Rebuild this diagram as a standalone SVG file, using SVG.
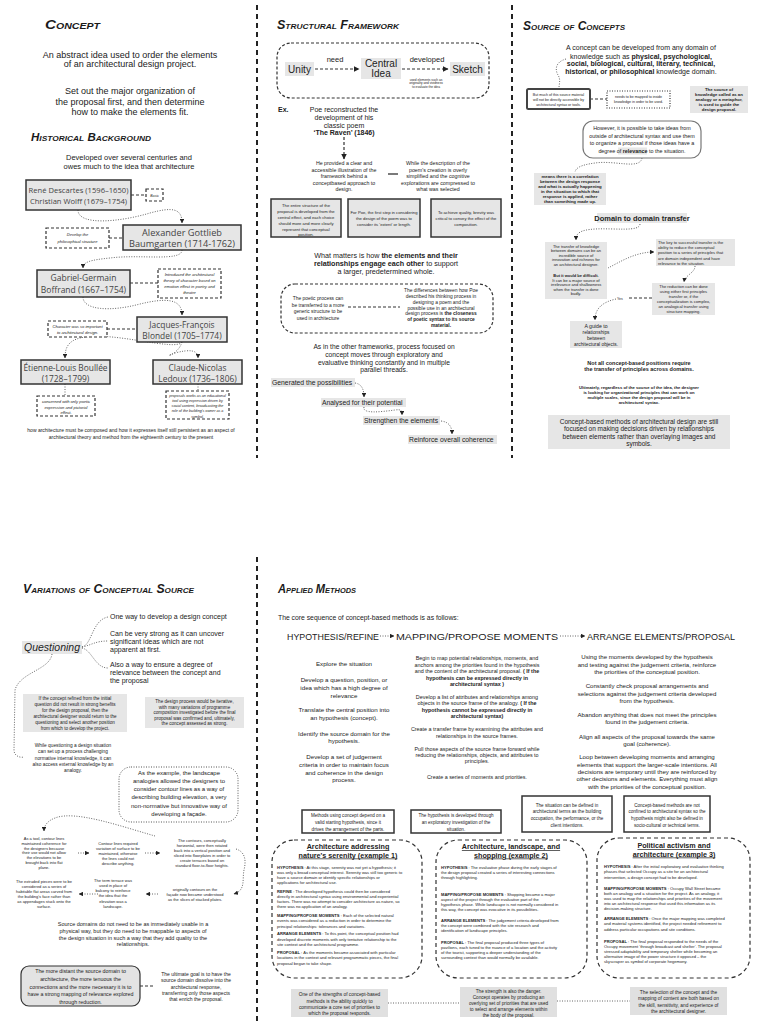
<svg xmlns="http://www.w3.org/2000/svg" width="768" height="1024" viewBox="0 0 768 1024">
<defs>
<style>
text{font-family:"Liberation Sans",Arial,sans-serif;fill:#222}
.o{font-family:"Open Sans","Noto Sans",sans-serif;fill:#444}
.m{text-anchor:middle}
.b{font-weight:bold}
.i{font-style:italic}
.ttl{font-family:"Liberation Sans",Arial,sans-serif;font-weight:bold;font-style:italic;font-variant:small-caps;fill:#1a1a1a}
.nb{fill:#e6e6e6;stroke:#333;stroke-width:1.5}
.gb{fill:#e6e6e6}
.wb{fill:#fff;stroke:#333;stroke-width:1.5}
.db{fill:#fff;stroke:#333;stroke-width:1.2;stroke-dasharray:3 2}
.dot{fill:none;stroke:#555;stroke-width:0.9;stroke-dasharray:1 1.5}
.dsh{fill:none;stroke:#333;stroke-width:1.2;stroke-dasharray:3 2}
.div{stroke:#222;stroke-width:2;stroke-dasharray:5 4}
</style>
<marker id="ah" viewBox="0 0 6 6" refX="5.5" refY="3" markerWidth="5" markerHeight="5" orient="auto"><path d="M0,0L6,3L0,6z" fill="#222"/></marker>
</defs>
<rect width="768" height="1024" fill="#fff"/>

<g id="dividers">
<line class="div" x1="257" y1="5" x2="257" y2="458"/>
<line class="div" x1="512" y1="5" x2="512" y2="458"/>
<line class="div" x1="257" y1="557" x2="257" y2="1024"/>
</g>

<!-- ============ CONCEPT ============ -->
<g id="concept">
<text class="ttl" x="45" y="29" font-size="13" textLength="55" lengthAdjust="spacingAndGlyphs">Concept</text>
<text class="m" font-size="9" x="130" y="58">An abstract idea used to order the elements</text>
<text class="m" font-size="9" x="130" y="67">of an architectural design project.</text>
<text class="m" font-size="9" x="130" y="94">Set out the major organization of</text>
<text class="m" font-size="9" x="130" y="105">the proposal first, and then determine</text>
<text class="m" font-size="9" x="130" y="115">how to make the elements fit.</text>
</g>

<g id="historical">
<text class="ttl" x="31" y="141" font-size="11" textLength="120" lengthAdjust="spacingAndGlyphs">Historical Background</text>
<text class="m" font-size="7.5" x="129" y="160">Developed over several centuries and</text>
<text class="m" font-size="7.5" x="129" y="169">owes much to the idea that architecture</text>
<text class="m" font-size="5" x="131" y="432">how architecture must be composed and how it expresses itself still persistent as an aspect of</text>
<text class="m" font-size="5" x="131" y="438.5">architectural theory and method from the eighteenth century to the present</text>
</g>

<g id="hist-connectors">
<path class="dot" d="M78,210 C78,226 120,222 150,213 C172,207 182,208 182,223" marker-end="url(#ah)"/>
<path class="dsh" d="M131,195 L146,195"/>
<path class="dsh" d="M109,238 L123,238"/>
<path class="dot" d="M182,250 C182,262 140,254 110,258 C90,260 83,262 83,268" marker-end="url(#ah)"/>
<path class="dsh" d="M130,283 L158,283"/>
<path class="dot" d="M83,297 C83,310 110,312 140,304 C165,298 182,298 182,315" marker-end="url(#ah)"/>
<path class="dsh" d="M107,329 L137,329"/>
<path class="dot" d="M182,342 C176,352 110,330 80,338 C68,341 65,348 65,358" marker-end="url(#ah)"/>
<path class="dot" d="M182,342 C178,356 160,358 175,353 C190,349 198,350 198,358" marker-end="url(#ah)"/>
<path class="dot" d="M65,384 L65,396"/>
<path class="dot" d="M198,384 L198,391"/>
</g>

<g id="descartes">
<rect class="nb" x="26" y="180" width="105" height="30"/>
<text class="o m" font-size="7.6" x="78.5" y="193">René Descartes (1596–1650)</text>
<text class="o m" font-size="7.6" x="78.5" y="204">Christian Wolff (1679–1754)</text>
</g>
<g id="basic">
<rect class="db" x="146" y="189" width="17" height="12"/>
<text class="m i" font-size="3.5" x="154.5" y="196.5">Basic</text>
</g>
<g id="baumgarten">
<rect class="nb" x="123" y="225" width="118" height="25"/>
<text class="o m" font-size="9.2" x="182" y="236">Alexander Gottlieb</text>
<text class="o m" font-size="9.2" x="182" y="247">Baumgarten (1714-1762)</text>
</g>
<g id="develop-note">
<rect class="db" x="46" y="228" width="63" height="20"/>
<text class="m i" font-size="4" x="77.5" y="236">Develop the</text>
<text class="m i" font-size="4" x="77.5" y="242.5">philosophical structure</text>
</g>
<g id="boffrand">
<rect class="nb" x="37" y="270" width="93" height="27"/>
<text class="o m" font-size="8.5" x="83.5" y="281">Gabriel-Germain</text>
<text class="o m" font-size="8.5" x="83.5" y="292.5">Boffrand (1667–1754)</text>
</g>
<g id="boffrand-note">
<rect class="db" x="158" y="269" width="63" height="29"/>
<text class="m i" font-size="4.1" x="189.5" y="276">Introduced the architectural</text>
<text class="m i" font-size="4.1" x="189.5" y="282">theory of character based on</text>
<text class="m i" font-size="4.1" x="189.5" y="288">emotion effect in poetry and</text>
<text class="m i" font-size="4.1" x="189.5" y="294">theatre</text>
</g>
<g id="blondel">
<rect class="nb" x="137" y="317" width="90" height="25"/>
<text class="o m" font-size="8.4" x="182" y="328">Jacques-François</text>
<text class="o m" font-size="8.4" x="182" y="339">Blondel (1705–1774)</text>
</g>
<g id="blondel-note">
<rect class="db" x="48" y="321" width="59" height="16"/>
<text class="m i" font-size="4.1" x="77.5" y="328">Character was so important</text>
<text class="m i" font-size="4.1" x="77.5" y="334">to architectural design.</text>
</g>
<g id="boullee">
<rect class="nb" x="21" y="360" width="89" height="24"/>
<text class="o m" font-size="8.4" x="65.5" y="371">Étienne-Louis Boullée</text>
<text class="o m" font-size="8.4" x="65.5" y="382">(1728–1799)</text>
</g>
<g id="ledoux">
<rect class="nb" x="153" y="360" width="89" height="24"/>
<text class="o m" font-size="8.4" x="197.5" y="371">Claude-Nicolas</text>
<text class="o m" font-size="8.4" x="197.5" y="382">Ledoux (1736–1806)</text>
</g>
<g id="boullee-note">
<rect class="db" x="37" y="396" width="58" height="20"/>
<text class="m i" font-size="4.1" x="66" y="402.5">concerned with only poetic</text>
<text class="m i" font-size="4.1" x="66" y="408.5">expression and pictorial</text>
<text class="m i" font-size="4.1" x="66" y="414">effect.</text>
</g>
<g id="ledoux-note">
<rect class="db" x="166" y="391" width="63" height="28"/>
<text class="m i" font-size="3.7" x="197.5" y="396.5">proposals works as an educational</text>
<text class="m i" font-size="3.7" x="197.5" y="401.8">tool using expression driven by</text>
<text class="m i" font-size="3.7" x="197.5" y="407.1">social content, broadcasting the</text>
<text class="m i" font-size="3.7" x="197.5" y="412.4">role of the building's owner as a</text>
<text class="m i" font-size="3.7" x="197.5" y="417.5">symbol.</text>
</g>

<!-- ============ STRUCTURAL FRAMEWORK ============ -->
<g id="sf-title">
<text class="ttl" x="277" y="29" font-size="12" textLength="122" lengthAdjust="spacingAndGlyphs">Structural Framework</text>
</g>
<g id="sf-frame"><rect class="dsh" x="277" y="43" width="212" height="55" rx="14"/></g>
<g id="unity"><rect class="gb" x="285" y="62" width="29" height="14"/><text class="m" font-size="10" x="299.5" y="73">Unity</text></g>
<g id="central-idea"><rect class="gb" x="361" y="58" width="40" height="21"/>
<text class="m" font-size="10" x="381" y="67">Central</text><text class="m" font-size="10" x="381" y="77">Idea</text></g>
<g id="sketch"><rect class="gb" x="450" y="62" width="35" height="14"/><text class="m" font-size="10" x="467.5" y="73">Sketch</text></g>
<g id="sf-connectors">
<path class="dsh" d="M315,69 L359,69" marker-end="url(#ah)"/>
<path class="dsh" d="M402,69 L448,69" marker-end="url(#ah)"/>
<text class="m" font-size="7.5" x="335" y="62">need</text>
<text class="m" font-size="7.5" x="427" y="62">developed</text>
<text class="m" font-size="3.2" x="426" y="80.5">used elements such as</text>
<text class="m" font-size="3.2" x="426" y="84">originality and vividness</text>
<text class="m" font-size="3.2" x="426" y="87.5">to evaluate the idea</text>
<path class="dsh" d="M344,137 L344,159" marker-end="url(#ah)"/>
<path d="M388,174 L398,174" stroke="#222" stroke-width="1.2"/>
<path class="dsh" d="M348,307 L400,307"/>
</g>
<g id="poe">
<text class="b" font-size="7" x="278" y="111.5">Ex.</text>
<text class="m" font-size="7" x="344" y="111.5">Poe reconstructed the</text>
<text class="m" font-size="7" x="344" y="119.5">development of his</text>
<text class="m" font-size="7" x="344" y="127.5">classic poem</text>
<text class="m b" font-size="7" x="344" y="134.5">‘The Raven’ (1846)</text>
</g>
<g id="poe-left">
<text class="m" font-size="5.3" x="344" y="165">He provided a clear and</text>
<text class="m" font-size="5.3" x="344" y="171.5">accessible illustration of the</text>
<text class="m" font-size="5.3" x="344" y="178">framework behind a</text>
<text class="m" font-size="5.3" x="344" y="184.5">conceptbased approach to</text>
<text class="m" font-size="5.3" x="344" y="191">design.</text>
</g>
<g id="poe-right">
<text class="m" font-size="5.3" x="438" y="165">While the description of the</text>
<text class="m" font-size="5.3" x="438" y="171.5">poem's creation is overly</text>
<text class="m" font-size="5.3" x="438" y="178">simplified and the cognitive</text>
<text class="m" font-size="5.3" x="438" y="184.5">explorations are compressed to</text>
<text class="m" font-size="5.3" x="438" y="191">what was selected</text>
</g>
<g id="sf-box1">
<rect class="nb" x="271" y="199" width="70" height="38"/>
<text class="m" font-size="4.2" x="306" y="206.5">The entire structure of the</text>
<text class="m" font-size="4.2" x="306" y="212.5">proposal is developed from the</text>
<text class="m" font-size="4.2" x="306" y="218.5">central effect, and each choice</text>
<text class="m" font-size="4.2" x="306" y="224.5">should more and more clearly</text>
<text class="m" font-size="4.2" x="306" y="230.5">represent that conceptual</text>
<text class="m" font-size="4.2" x="306" y="235.5">position.</text>
</g>
<g id="sf-box2">
<rect class="nb" x="348" y="199" width="72" height="38"/>
<text class="m" font-size="4.2" x="384" y="214">For Poe, the first step in considering</text>
<text class="m" font-size="4.2" x="384" y="220">the design of the poem was to</text>
<text class="m" font-size="4.2" x="384" y="226">consider its 'extent' or length.</text>
</g>
<g id="sf-box3">
<rect class="nb" x="431" y="199" width="70" height="38"/>
<text class="m" font-size="4.2" x="466" y="214">To achieve quality, brevity was</text>
<text class="m" font-size="4.2" x="466" y="220">critical to convey the effect of the</text>
<text class="m" font-size="4.2" x="466" y="226">composition.</text>
</g>
<g id="what-matters">
<text class="m" font-size="7.2" x="386" y="258">What matters is how  <tspan class="b">the elements and their</tspan></text>
<text class="m" font-size="7.2" x="386" y="266"><tspan class="b">relationships engage each other</tspan> to support</text>
<text class="m" font-size="7.2" x="386" y="273.5">a larger, predetermined whole.</text>
</g>
<g id="poetic">
<rect class="dsh" x="281" y="284" width="212" height="49" rx="14"/>
<text class="m" font-size="4.9" x="318" y="300">The poetic process can</text>
<text class="m" font-size="4.9" x="318" y="306.5">be transferred to a more</text>
<text class="m" font-size="4.9" x="318" y="313">generic structure to be</text>
<text class="m" font-size="4.9" x="318" y="319.5">used in architecture</text>
<text class="m" font-size="4.9" x="441" y="291.5">The differences between how Poe</text>
<text class="m" font-size="4.9" x="441" y="297.5">described his thinking process in</text>
<text class="m" font-size="4.9" x="441" y="303.5">designing a poem and the</text>
<text class="m" font-size="4.9" x="441" y="309.5">possible use in an architectural</text>
<text class="m" font-size="4.9" x="441" y="315.3">design process is <tspan class="b">the closeness</tspan></text>
<text class="m b" font-size="4.9" x="441" y="321.2">of poetic syntax to its source</text>
<text class="m b" font-size="4.9" x="441" y="327">material.</text>
</g>
<g id="as-in">
<text class="m" font-size="6.7" x="384" y="348.5">As in the other frameworks, process focused on</text>
<text class="m" font-size="6.7" x="384" y="356.5">concept moves through exploratory and</text>
<text class="m" font-size="6.7" x="384" y="364.5">evaluative thinking constantly and in multiple</text>
<text class="m" font-size="6.7" x="384" y="371.5">parallel threads.</text>
</g>
<g id="step1"><rect class="gb" x="271" y="378" width="84" height="9"/><text font-size="6.8" x="272" y="385.3">Generated the possibilities</text></g>
<g id="step2"><rect class="gb" x="321" y="398" width="85" height="9"/><text font-size="6.8" x="322" y="405.3">Analysed for their potential</text></g>
<g id="step3"><rect class="gb" x="363" y="416" width="77" height="9"/><text font-size="6.8" x="364" y="423.3">Strengthen the elements</text></g>
<g id="step4"><rect class="gb" x="408" y="435" width="89" height="9"/><text font-size="6.8" x="409" y="442.3">Reinforce overall coherence</text></g>
<g id="step-connectors">
<path class="dot" d="M355,383 C362,384 364,390 364,397" marker-end="url(#ah)"/>
<path class="dot" d="M364,407 C362,414 380,412 395,410 C402,409 402,411 402,415" marker-end="url(#ah)"/>
<path class="dot" d="M441,421 C450,422 452,428 452,434" marker-end="url(#ah)"/>
</g>

<!-- ============ SOURCE OF CONCEPTS ============ -->
<g id="soc-title">
<text class="ttl" x="523" y="30" font-size="12" textLength="102" lengthAdjust="spacingAndGlyphs">Source of Concepts</text>
</g>
<g id="soc-intro">
<text class="m" font-size="7" x="641" y="50">A concept can be developed from any domain of</text>
<text class="m" font-size="7" x="641" y="58.5">knowledge such as <tspan class="b">physical, psychological,</tspan></text>
<text class="m b" font-size="7" x="641" y="66">social, biological, cultural, literary, technical,</text>
<text class="m" font-size="7" x="641" y="74"><tspan class="b">historical, or philosophical</tspan> knowledge domain.</text>
</g>
<g id="soc-connectors">
<path class="dot" d="M566,59 C555,62 555,70 558,75 C561,80 559,84 559,88"/>
<path class="dsh" d="M590,99 L607,99"/>
<path class="dot" d="M642,158 C640,170 615,160 595,163 C580,165 576,168 575,172"/>
<path class="dot" d="M640,224 C640,232 615,228 595,229 C580,230 576,233 576,240" marker-end="url(#ah)"/>
<path class="dot" d="M608,268 C620,262 635,252 654,252" marker-end="url(#ah)"/>
<path class="dot" d="M695,266 C695,273 685,275 684,282" marker-end="url(#ah)"/>
<path class="dsh" d="M652,298 L627,298"/>
<text font-size="3.5" x="617" y="299.5">Yes</text>
<path class="dot" d="M616,299 C603,302 595,308 595,320" marker-end="url(#ah)"/>
</g>
<g id="soc-not-accessible">
<rect x="527" y="89" width="63" height="20" rx="1.5" fill="#fff" stroke="#444" stroke-width="2"/>
<text class="m" font-size="3.6" x="558.5" y="95.5">But much of this source material</text>
<text class="m" font-size="3.6" x="558.5" y="100.5">will not be directly accessible by</text>
<text class="m" font-size="3.6" x="558.5" y="105.5">architectural syntax or tools.</text>
</g>
<g id="soc-mapped">
<rect x="607" y="91" width="63" height="17" fill="#fff" stroke="#333" stroke-width="1.2" stroke-dasharray="1 1.5"/>
<text class="m" font-size="3.6" x="638.5" y="98">needs to be mapped to inside</text>
<text class="m" font-size="3.6" x="638.5" y="103">knowledge in order to be used.</text>
</g>
<g id="soc-analogy">
<rect class="gb" x="690" y="86" width="58" height="27"/>
<text class="m b" font-size="4.3" x="719" y="91">The source of</text>
<text class="m b" font-size="4.3" x="719" y="96">knowledge called as an</text>
<text class="m b" font-size="4.3" x="719" y="101">analogy or a metaphor,</text>
<text class="m b" font-size="4.3" x="719" y="106">is used to guide the</text>
<text class="m b" font-size="4.3" x="719" y="111">design proposal.</text>
</g>
<g id="soc-however">
<rect x="583" y="121" width="118" height="37" rx="10" fill="#fff" stroke="#777" stroke-width="1.2"/>
<rect class="gb" x="618" y="147.5" width="29" height="7"/>
<text class="m" font-size="5.4" x="642" y="130">However, it is possible to take ideas from</text>
<text class="m" font-size="5.4" x="642" y="137.5">outside of architectural syntax and use them</text>
<text class="m" font-size="5.4" x="642" y="145">to organize a proposal if those ideas have a</text>
<text class="m" font-size="5.4" x="642" y="153">degree of <tspan class="b">relevance</tspan> to the situation.</text>
</g>
<g id="soc-correlation">
<rect class="gb" x="534" y="173" width="72" height="32"/>
<text class="m b" font-size="4.3" x="570" y="177.5">means there is a correlation</text>
<text class="m b" font-size="4.3" x="570" y="182.5">between the design response</text>
<text class="m b" font-size="4.3" x="570" y="187.5">and what is actually happening</text>
<text class="m b" font-size="4.3" x="570" y="192.5">in the situation to which that</text>
<text class="m b" font-size="4.3" x="570" y="197.5">response is applied, rather</text>
<text class="m b" font-size="4.3" x="570" y="202.5">than something made up.</text>
</g>
<g id="soc-domain">
<rect class="gb" x="597" y="213" width="90" height="10"/>
<text class="m b" font-size="7.5" x="642" y="221">Domain to domain transfer</text>
</g>
<g id="soc-transfer">
<rect class="gb" x="545" y="242" width="62" height="57"/>
<text class="m" font-size="4" x="576" y="247.5">The transfer of knowledge</text>
<text class="m" font-size="4" x="576" y="252">between domains can be an</text>
<text class="m" font-size="4" x="576" y="256.5">incredible source of</text>
<text class="m" font-size="4" x="576" y="261">innovation and richness for</text>
<text class="m" font-size="4" x="576" y="265.5">an architectural designer.</text>
<text class="m b" font-size="4" x="576" y="276.5">But it would be difficult.</text>
<text class="m" font-size="4" x="576" y="281.5">It can be a major source of</text>
<text class="m" font-size="4" x="576" y="286">irrelevance and shallowness</text>
<text class="m" font-size="4" x="576" y="290.5">when the transfer is done</text>
<text class="m" font-size="4" x="576" y="295">badly.</text>
</g>
<g id="soc-key">
<rect class="gb" x="656" y="239" width="79" height="27"/>
<text font-size="4.1" x="658" y="244">The key to successful transfer is the</text>
<text font-size="4.1" x="658" y="249.2">ability to reduce the conceptual</text>
<text font-size="4.1" x="658" y="254.4">position to a series of principles that</text>
<text font-size="4.1" x="658" y="259.6">are domain independent and have</text>
<text font-size="4.1" x="658" y="264.6">relevance to the situation.</text>
</g>
<g id="soc-reduction">
<rect class="gb" x="652" y="283" width="63" height="32"/>
<text class="m" font-size="4.1" x="683.5" y="288">The reduction can be done</text>
<text class="m" font-size="4.1" x="683.5" y="293">using either first principles</text>
<text class="m" font-size="4.1" x="683.5" y="298">transfer or, if the</text>
<text class="m" font-size="4.1" x="683.5" y="303">conceptualization is complex,</text>
<text class="m" font-size="4.1" x="683.5" y="308">an analogical transfer using</text>
<text class="m" font-size="4.1" x="683.5" y="313">structure mapping.</text>
</g>
<g id="soc-guide">
<rect class="gb" x="570" y="321" width="52" height="27"/>
<text class="m" font-size="5.2" x="596" y="328">A guide to</text>
<text class="m" font-size="4.8" x="596" y="334">relationships</text>
<text class="m" font-size="4.8" x="596" y="340">between</text>
<text class="m" font-size="4.8" x="596" y="346">architectural objects.</text>
</g>
<g id="soc-notall">
<text class="m b" font-size="5.5" x="639" y="365">Not all concept-based positions require</text>
<text class="m b" font-size="5.5" x="639" y="371">the transfer of principles across domains.</text>
</g>
<g id="soc-ultimately">
<text class="m b" font-size="4.2" x="639" y="389">Ultimately, regardless of the source of the idea, the designer</text>
<text class="m b" font-size="4.2" x="639" y="394">is looking for organizational principles that can work on</text>
<text class="m b" font-size="4.2" x="639" y="399">multiple scales, since the design proposal will be in</text>
<text class="m b" font-size="4.2" x="639" y="403.5">architectural syntax.</text>
</g>
<g id="soc-final">
<rect class="gb" x="548" y="415" width="182" height="34"/>
<text class="m" font-size="6.5" x="639" y="423.5">Concept-based methods of architectural design are still</text>
<text class="m" font-size="6.5" x="639" y="431">focused on making decisions driven by relationships</text>
<text class="m" font-size="6.5" x="639" y="438.5">between elements rather than overlaying images and</text>
<text class="m" font-size="6.5" x="639" y="446">symbols.</text>
</g>

<!-- ============ VARIATIONS ============ -->
<g id="var-title">
<text class="ttl" x="23" y="593" font-size="12" textLength="171" lengthAdjust="spacingAndGlyphs">Variations of Conceptual Source</text>
</g>
<g id="questioning">
<rect class="gb" x="22" y="641" width="60" height="13"/>
<text class="i" font-size="10.5" x="24" y="651">Questioning</text>
</g>
<g id="q-connectors">
<path class="dot" d="M82,647 C92,645 92,620 108,617"/>
<path class="dot" d="M82,647 C92,645 95,641 108,641"/>
<path class="dot" d="M82,648 C92,650 95,668 108,668"/>
<path class="dot" d="M52,654 C50,670 20,672 15,690 L14,750 C14,756 20,758 24,757"/>
</g>
<g id="q-one"><text font-size="7" x="110" y="619">One way to develop a design concept</text></g>
<g id="q-strong">
<text font-size="7" x="110" y="636">Can be very strong as it can uncover</text>
<text font-size="7" x="110" y="644">significant ideas which are not</text>
<text font-size="7" x="110" y="652">apparent at first.</text>
</g>
<g id="q-relevance">
<text font-size="7" x="110" y="667">Also a way to ensure a degree of</text>
<text font-size="7" x="110" y="675">relevance between the concept and</text>
<text font-size="7" x="110" y="683">the proposal</text>
</g>
<g id="q-refined">
<rect class="gb" x="23" y="694" width="104" height="38"/>
<text class="m" font-size="4.6" x="75" y="699.5">If the concept refined from the initial</text>
<text class="m" font-size="4.6" x="75" y="705.5">question did not result in strong benefits</text>
<text class="m" font-size="4.6" x="75" y="711.5">for the design proposal, then the</text>
<text class="m" font-size="4.6" x="75" y="717.5">architectural designer would return to the</text>
<text class="m" font-size="4.6" x="75" y="723.5">questioning and select another position</text>
<text class="m" font-size="4.6" x="75" y="729.5">from which to develop the project.</text>
</g>
<g id="q-iterative">
<rect class="gb" x="145" y="697" width="99" height="31"/>
<text class="m" font-size="4.6" x="194.5" y="703">The design process would be iterative,</text>
<text class="m" font-size="4.6" x="194.5" y="708.5">with many variations of programme</text>
<text class="m" font-size="4.6" x="194.5" y="714">composition investigated before the final</text>
<text class="m" font-size="4.6" x="194.5" y="719.5">proposal was confirmed and, ultimately,</text>
<text class="m" font-size="4.6" x="194.5" y="725">the concept assessed as strong.</text>
</g>
<g id="q-while">
<text class="m" font-size="4.8" x="73" y="747">While questioning a design situation</text>
<text class="m" font-size="4.8" x="73" y="753">can set up a process challenging</text>
<text class="m" font-size="4.8" x="73" y="759.5">normative internal knowledge, it can</text>
<text class="m" font-size="4.8" x="73" y="765.5">also access external knowledge by an</text>
<text class="m" font-size="4.8" x="73" y="772">analogy.</text>
</g>
<g id="q-example">
<rect x="119" y="767" width="119" height="55" rx="12" fill="#fff" stroke="#555" stroke-width="1" stroke-dasharray="1 1.5"/>
<text class="m" font-size="6" x="179" y="774.5">As the example, the landscape</text>
<text class="m" font-size="6" x="179" y="782.8">analogies allowed the designers to</text>
<text class="m" font-size="6" x="179" y="791.1">consider contour lines as a way of</text>
<text class="m" font-size="6" x="179" y="799.4">describing building elevation, a very</text>
<text class="m" font-size="6" x="179" y="807.7">non-normative but innovative way of</text>
<text class="m" font-size="6" x="179" y="816">developing a façade.</text>
</g>
<g id="land-connectors">
<path class="dot" d="M155,836 C120,826 75,810 55,818 C47,821 44,826 44,831" marker-end="url(#ah)"/>
<path class="dot" d="M78,853 L89,853" marker-end="url(#ah)"/>
<path class="dot" d="M145,853 L160,853" marker-end="url(#ah)"/>
<path class="dot" d="M236,849 C246,852 246,862 244,870 C242,880 246,890 234,894" marker-end="url(#ah)"/>
<path class="dot" d="M158,894 L146,894" marker-end="url(#ah)"/>
<path class="dot" d="M98,894 L79,894" marker-end="url(#ah)"/>
</g>
<g id="l-tool">
<text class="m" font-size="4" x="44" y="840">As a tool, contour lines</text>
<text class="m" font-size="4" x="44" y="844.8">maintained coherence for</text>
<text class="m" font-size="4" x="44" y="849.6">the designers because</text>
<text class="m" font-size="4" x="44" y="854.4">their use would not allow</text>
<text class="m" font-size="4" x="44" y="859.2">the elevations to be</text>
<text class="m" font-size="4" x="44" y="864">brought back into flat</text>
<text class="m" font-size="4" x="44" y="868.8">plane.</text>
</g>
<g id="l-variation">
<text class="m" font-size="4" x="118" y="845">Contour lines required</text>
<text class="m" font-size="4" x="118" y="850">variation of surface to be</text>
<text class="m" font-size="4" x="118" y="855">maintained, otherwise</text>
<text class="m" font-size="4" x="118" y="860">the lines could not</text>
<text class="m" font-size="4" x="118" y="865">describe anything.</text>
</g>
<g id="l-rotated">
<text class="m" font-size="4" x="202" y="842">The contours, conceptually</text>
<text class="m" font-size="4" x="202" y="847">horizontal, were then rotated</text>
<text class="m" font-size="4" x="202" y="852">back into a vertical position and</text>
<text class="m" font-size="4" x="202" y="857">sliced into floorplates in order to</text>
<text class="m" font-size="4" x="202" y="862">create terraces based on</text>
<text class="m" font-size="4" x="202" y="867">standard floor-to-floor heights.</text>
</g>
<g id="l-slices">
<text class="m" font-size="4" x="195" y="890.5">originally contours on the</text>
<text class="m" font-size="4" x="195" y="895.8">façade now became understood</text>
<text class="m" font-size="4" x="195" y="901">as the slices of stacked plates.</text>
</g>
<g id="l-terrace">
<text class="m" font-size="4" x="113" y="882">The term terrace was</text>
<text class="m" font-size="4" x="113" y="887">used in place of</text>
<text class="m" font-size="4" x="113" y="892">balcony to reinforce</text>
<text class="m" font-size="4" x="113" y="897">the idea that the</text>
<text class="m" font-size="4" x="113" y="902.5">elevation was a</text>
<text class="m" font-size="4" x="113" y="908">landscape.</text>
</g>
<g id="l-extruded">
<text class="m" font-size="4" x="44" y="883">The extruded pieces were to be</text>
<text class="m" font-size="4" x="44" y="888">considered as a series of</text>
<text class="m" font-size="4" x="44" y="893">habitable flat areas carved from</text>
<text class="m" font-size="4" x="44" y="898">the building's face rather than</text>
<text class="m" font-size="4" x="44" y="903">as appendages stuck onto the</text>
<text class="m" font-size="4" x="44" y="908">surface.</text>
</g>
<g id="source-domains">
<text class="m" font-size="5.5" x="133" y="926">Source domains do not need to be as immediately usable in a</text>
<text class="m" font-size="5.5" x="133" y="933">physical way, but they do need to be mappable to aspects of</text>
<text class="m" font-size="5.5" x="133" y="939.5">the design situation in such a way that they add quality to the</text>
<text class="m" font-size="5.5" x="133" y="945.5">relationships.</text>
</g>
<g id="distant">
<rect x="21" y="966" width="119" height="40" rx="8" fill="#e3e3e3" stroke="#333" stroke-width="1.2"/>
<text class="m" font-size="5.3" x="80.5" y="973">The more distant the source domain to</text>
<text class="m" font-size="5.3" x="80.5" y="981">architecture, the more tenuous the</text>
<text class="m" font-size="5.3" x="80.5" y="989">connections and the more necessary it is to</text>
<text class="m" font-size="5.3" x="80.5" y="996">have a strong mapping of relevance explored</text>
<text class="m" font-size="5.3" x="80.5" y="1003.5">through reduction.</text>
</g>
<g id="distant-connector"><path class="dsh" d="M140,986 L155,986"/></g>
<g id="ultimate">
<text class="m" font-size="5" x="196" y="976">The ultimate goal is to have the</text>
<text class="m" font-size="5" x="196" y="982.3">source domain dissolve into the</text>
<text class="m" font-size="5" x="196" y="988.6">architectural response,</text>
<text class="m" font-size="5" x="196" y="994.9">transferring only those aspects</text>
<text class="m" font-size="5" x="196" y="1001">that enrich the proposal.</text>
</g>

<!-- ============ APPLIED METHODS ============ -->
<g id="am-title">
<text class="ttl" x="278" y="593" font-size="12" textLength="78" lengthAdjust="spacingAndGlyphs">Applied Methods</text>
<text font-size="6.8" x="278" y="620">The core sequence of concept-based methods is as follows:</text>
</g>
<g id="hyp-head"><text font-size="9" x="287" y="639.5" textLength="92" lengthAdjust="spacingAndGlyphs">HYPOTHESIS/REFINE</text></g>
<g id="map-head"><text font-size="9" x="396" y="639.5" textLength="162" lengthAdjust="spacingAndGlyphs">MAPPING/PROPOSE MOMENTS</text></g>
<g id="arr-head"><text font-size="9" x="587" y="639.5" textLength="148" lengthAdjust="spacingAndGlyphs">ARRANGE ELEMENTS/PROPOSAL</text></g>
<g id="am-connectors">
<path class="dot" d="M380,636 L394,636" marker-end="url(#ah)"/>
<path class="dot" d="M560,636 L585,636" marker-end="url(#ah)"/>
<path class="dot" d="M388,1003 L460,1003"/>
<path class="dot" d="M557,1001 L630,1001"/>
</g>
<g id="hyp-col">
<text class="m" font-size="6.2" x="344" y="665.5">Explore the situation</text>
<text class="m" font-size="6.2" x="344" y="681.5">Develop a question, position, or</text>
<text class="m" font-size="6.2" x="344" y="689.5">idea which has a high degree of</text>
<text class="m" font-size="6.2" x="344" y="697.5">relevance</text>
<text class="m" font-size="6.2" x="344" y="712">Translate the central position into</text>
<text class="m" font-size="6.2" x="344" y="720">an hypothesis (concept).</text>
<text class="m" font-size="6.2" x="344" y="735.5">Identify the source domain for the</text>
<text class="m" font-size="6.2" x="344" y="743">hypothesis.</text>
<text class="m" font-size="6.2" x="344" y="758.5">Develop a set of judgement</text>
<text class="m" font-size="6.2" x="344" y="766.5">criteria in order to maintain focus</text>
<text class="m" font-size="6.2" x="344" y="774.5">and coherence in the design</text>
<text class="m" font-size="6.2" x="344" y="782">process.</text>
</g>
<g id="map-col">
<text class="m" font-size="5.4" x="477" y="660">Begin to map potential relationships, moments, and</text>
<text class="m" font-size="5.4" x="477" y="666.5">anchors among the priorities found in the hypothesis</text>
<text class="m" font-size="5.4" x="477" y="673">and the content of the architectural proposal. <tspan class="b">( If the</tspan></text>
<text class="m b" font-size="5.4" x="477" y="679.5">hypothesis can be expressed directly in</text>
<text class="m b" font-size="5.4" x="477" y="686">architectural syntax )</text>
<text class="m" font-size="5.4" x="477" y="698.5">Develop a list of attributes and relationships among</text>
<text class="m" font-size="5.4" x="477" y="705">objects in the source frame of the analogy. <tspan class="b">( If the</tspan></text>
<text class="m b" font-size="5.4" x="477" y="711.5">hypothesis cannot be expressed directly in</text>
<text class="m b" font-size="5.4" x="477" y="718">architectural syntax)</text>
<text class="m" font-size="5.4" x="477" y="731">Create a transfer frame by examining the attributes and</text>
<text class="m" font-size="5.4" x="477" y="738">relationships in the source frames.</text>
<text class="m" font-size="5.4" x="477" y="751">Pull those aspects of the source frame forward while</text>
<text class="m" font-size="5.4" x="477" y="757">reducing the relationships, objects, and attributes to</text>
<text class="m" font-size="5.4" x="477" y="763">principles.</text>
<text class="m" font-size="5.4" x="477" y="779">Create a series of moments and priorities.</text>
</g>
<g id="arr-col">
<text class="m" font-size="6.1" x="647" y="659">Using the moments developed by the hypothesis</text>
<text class="m" font-size="6.1" x="647" y="667">and testing against the judgement criteria, reinforce</text>
<text class="m" font-size="6.1" x="647" y="674">the priorities of the conceptual position.</text>
<text class="m" font-size="6.1" x="647" y="688">Constantly check proposal arrangements and</text>
<text class="m" font-size="6.1" x="647" y="695.5">selections against the judgement criteria developed</text>
<text class="m" font-size="6.1" x="647" y="703">from the hypothesis.</text>
<text class="m" font-size="6.1" x="647" y="717">Abandon anything that does not meet the principles</text>
<text class="m" font-size="6.1" x="647" y="724">found in the judgement criteria.</text>
<text class="m" font-size="6.1" x="647" y="739">Align all aspects of the proposal towards the same</text>
<text class="m" font-size="6.1" x="647" y="746">goal (coherence).</text>
<text class="m" font-size="6.1" x="647" y="759">Loop between developing moments and arranging</text>
<text class="m" font-size="6.1" x="647" y="766.5">elements that support the larger-scale intentions. All</text>
<text class="m" font-size="6.1" x="647" y="774">decisions are temporary until they are reinforced by</text>
<text class="m" font-size="6.1" x="647" y="781">other decisions and elements. Everything must align</text>
<text class="m" font-size="6.1" x="647" y="789">with the priorities of the conceptual position.</text>
</g>
<g id="box-methods">
<rect class="wb" x="302" y="810" width="92" height="23"/>
<text class="m" font-size="4.6" x="348" y="817">Methods using concept depend on a</text>
<text class="m" font-size="4.6" x="348" y="824">valid starting hypothesis, since it</text>
<text class="m" font-size="4.6" x="348" y="831">drives the arrangement of the parts.</text>
</g>
<g id="box-hypothesis">
<rect class="wb" x="411" y="810" width="90" height="23"/>
<text class="m" font-size="4.6" x="456" y="817">The hypothesis is developed through</text>
<text class="m" font-size="4.6" x="456" y="824">an exploratory investigation of the</text>
<text class="m" font-size="4.6" x="456" y="831">situation.</text>
</g>
<g id="box-situation">
<rect class="wb" x="522" y="796" width="90" height="36"/>
<text class="m" font-size="4.6" x="567" y="806.5">The situation can be defined in</text>
<text class="m" font-size="4.6" x="567" y="813.2">architectural terms as the building</text>
<text class="m" font-size="4.6" x="567" y="819.9">occupation, the performance, or the</text>
<text class="m" font-size="4.6" x="567" y="826.5">client intentions.</text>
</g>
<g id="box-notconfined">
<rect class="wb" x="624" y="796" width="86" height="36"/>
<text class="m" font-size="4.6" x="667" y="806.5">Concept-based methods are not</text>
<text class="m" font-size="4.6" x="667" y="813.2">confined to architectural syntax so the</text>
<text class="m" font-size="4.6" x="667" y="819.9">hypothesis might also be defined in</text>
<text class="m" font-size="4.6" x="667" y="826.5">socio-cultural or technical terms.</text>
</g>
<g id="example1">
<rect x="272" y="840" width="150" height="138" rx="22" fill="none" stroke="#333" stroke-width="1.2" stroke-dasharray="4 3"/>
<text class="m b" font-size="7.2" x="348" y="849" text-decoration="underline">Architecture addressing</text>
<text class="m b" font-size="7.2" x="348" y="857.5" text-decoration="underline">nature's serenity (example 1)</text>
<text font-size="4.1" x="277" y="869"><tspan class="b">HYPOTHESIS</tspan> : At this stage, serenity was not yet a hypothesis; it</text>
<text font-size="4.1" x="277" y="874">was only a broad conceptual interest. Serenity was still too generic to</text>
<text font-size="4.1" x="277" y="879">have a source domain or identify specific relationships or</text>
<text font-size="4.1" x="277" y="884">applications for architectural use.</text>
<text font-size="4.1" x="277" y="892.5"><tspan class="b">REFINE</tspan> : The developed hypothesis could then be considered</text>
<text font-size="4.1" x="277" y="898">directly in architectural syntax using environmental and experiential</text>
<text font-size="4.1" x="277" y="903">factors. There was no attempt to consider architecture as nature, so</text>
<text font-size="4.1" x="277" y="908">there was no application of an analogy.</text>
<text font-size="4.1" x="277" y="917"><tspan class="b">MAPPING/PROPOSE MOMENTS</tspan> : Each of the selected natural</text>
<text font-size="4.1" x="277" y="922">events was considered as a reduction in order to determine the</text>
<text font-size="4.1" x="277" y="928">principal relationships: tolerances and variations.</text>
<text font-size="4.1" x="277" y="935"><tspan class="b">ARRANGE ELEMENTS</tspan> : To this point, the conceptual position had</text>
<text font-size="4.1" x="277" y="940.5">developed discrete moments with only tentative relationship to the</text>
<text font-size="4.1" x="277" y="946">site context and the architectural programme.</text>
<text font-size="4.1" x="277" y="953.5"><tspan class="b">PROPOSAL</tspan> : As the moments became associated with particular</text>
<text font-size="4.1" x="277" y="959">locations in the context and relevant programmatic pieces, the final</text>
<text font-size="4.1" x="277" y="964.5">proposal began to take shape.</text>
</g>
<g id="example2">
<rect x="436" y="840" width="151" height="138" rx="22" fill="none" stroke="#333" stroke-width="1.2" stroke-dasharray="4 3"/>
<text class="m b" font-size="7.2" x="511" y="849" text-decoration="underline">Architecture, landscape, and</text>
<text class="m b" font-size="7.2" x="511" y="857.5" text-decoration="underline">shopping (example 2)</text>
<text font-size="4.1" x="441" y="869"><tspan class="b">HYPOTHESIS</tspan> : The evaluative phase during the early stages of</text>
<text font-size="4.1" x="441" y="874">the design proposal created a series of interesting connections</text>
<text font-size="4.1" x="441" y="879">through highlighting.</text>
<text font-size="4.1" x="441" y="895.5"><tspan class="b">MAPPING/PROPOSE MOMENTS</tspan> : Shopping became a major</text>
<text font-size="4.1" x="441" y="900.5">aspect of the project through the evaluative part of the</text>
<text font-size="4.1" x="441" y="905.5">hypothesis phase. While landscape is not normally considered in</text>
<text font-size="4.1" x="441" y="910.5">this way, the concept was evocative in its possibilities.</text>
<text font-size="4.1" x="441" y="921.5"><tspan class="b">ARRANGE ELEMENTS</tspan> : The judgement criteria developed from</text>
<text font-size="4.1" x="441" y="926.5">the concept were combined with the site research and</text>
<text font-size="4.1" x="441" y="931.5">identification of landscape principles.</text>
<text font-size="4.1" x="441" y="943.5"><tspan class="b">PROPOSAL</tspan> : The final proposal produced three types of</text>
<text font-size="4.1" x="441" y="948.5">pavilions, each tuned to the nuance of a location and the activity</text>
<text font-size="4.1" x="441" y="953.5">of the tourist, supporting a deeper understanding of the</text>
<text font-size="4.1" x="441" y="959">surrounding context than would normally be available.</text>
</g>
<g id="example3">
<rect x="597" y="838" width="153" height="140" rx="22" fill="none" stroke="#333" stroke-width="1.2" stroke-dasharray="4 3"/>
<text class="m b" font-size="7.2" x="674" y="848" text-decoration="underline">Political activism and</text>
<text class="m b" font-size="7.2" x="674" y="856.5" text-decoration="underline">architecture (example 3)</text>
<text font-size="4.1" x="604" y="867.5"><tspan class="b">HYPOTHESIS</tspan> : After the initial exploratory and evaluative thinking</text>
<text font-size="4.1" x="604" y="873">phases that selected Occupy as a site for an architectural</text>
<text font-size="4.1" x="604" y="878.5">intervention, a design concept had to be developed.</text>
<text font-size="4.1" x="604" y="889.5"><tspan class="b">MAPPING/PROPOSE MOMENTS</tspan> : Occupy Wall Street became</text>
<text font-size="4.1" x="604" y="894.5">both an analogy and a situation for the project. As an analogy, it</text>
<text font-size="4.1" x="604" y="899.5">was used to map the relationships and priorities of the movement</text>
<text font-size="4.1" x="604" y="904.5">into an architectural response that used this information as its</text>
<text font-size="4.1" x="604" y="909.5">decision-making structure.</text>
<text font-size="4.1" x="604" y="919.5"><tspan class="b">ARRANGE ELEMENTS</tspan> : Once the major mapping was completed</text>
<text font-size="4.1" x="604" y="925">and material systems identified, the project needed refinement to</text>
<text font-size="4.1" x="604" y="930.5">address particular occupations and site conditions.</text>
<text font-size="4.1" x="604" y="942.5"><tspan class="b">PROPOSAL</tspan> : The final proposal responded to the needs of the</text>
<text font-size="4.1" x="604" y="948">Occupy movement ‘through broadcast and shelter’. The proposal</text>
<text font-size="4.1" x="604" y="953">stressed adaptability and temporary shelter while becoming an</text>
<text font-size="4.1" x="604" y="958">alternative image of the power structure it opposed – the</text>
<text font-size="4.1" x="604" y="963">skyscraper as symbol of corporate hegemony.</text>
</g>
<g id="strengths">
<rect x="291" y="989" width="97" height="28" fill="#e0e0e0"/>
<text class="m" font-size="4.8" x="339.5" y="996">One of the strengths of concept-based</text>
<text class="m" font-size="4.8" x="339.5" y="1002.5">methods is the ability quickly to</text>
<text class="m" font-size="4.8" x="339.5" y="1009">communicate a core set of priorities to</text>
<text class="m" font-size="4.8" x="339.5" y="1015">which the proposal responds.</text>
</g>
<g id="danger">
<rect x="460" y="987" width="97" height="30" fill="#e0e0e0"/>
<text class="m" font-size="4.7" x="508.5" y="993">The strength is also the danger.</text>
<text class="m" font-size="4.7" x="508.5" y="999">Concept operates by producing an</text>
<text class="m" font-size="4.7" x="508.5" y="1005">overlying set of priorities that are used</text>
<text class="m" font-size="4.7" x="508.5" y="1011">to select and arrange elements within</text>
<text class="m" font-size="4.7" x="508.5" y="1016.5">the body of the proposal.</text>
</g>
<g id="selection">
<rect x="630" y="987" width="97" height="28" fill="#e0e0e0"/>
<text class="m" font-size="4.8" x="678.5" y="994">The selection of the concept and the</text>
<text class="m" font-size="4.8" x="678.5" y="1000.3">mapping of content are both based on</text>
<text class="m" font-size="4.8" x="678.5" y="1006.6">the skill, sensitivity, and experience of</text>
<text class="m" font-size="4.8" x="678.5" y="1012.8">the architectural designer.</text>
</g>
</svg>
